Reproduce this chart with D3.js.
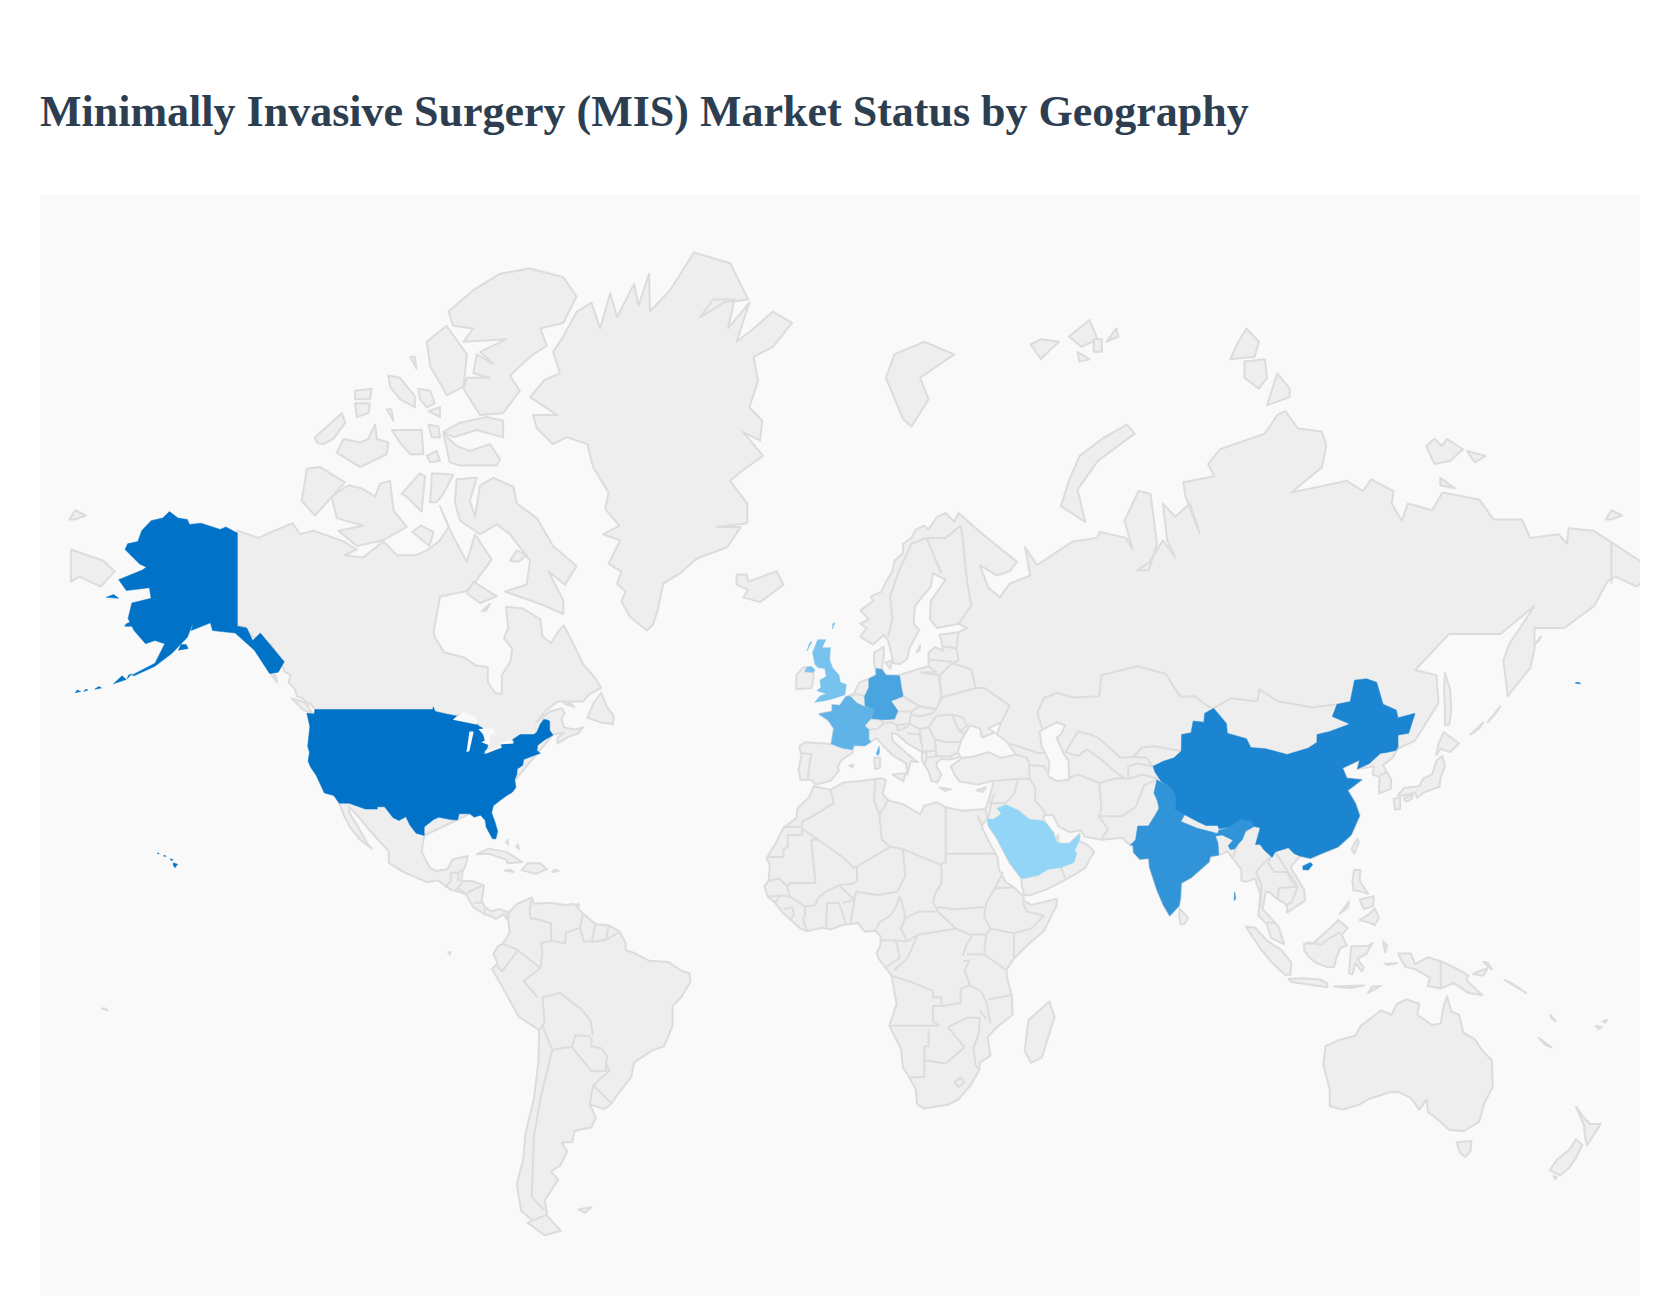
<!DOCTYPE html>
<html><head><meta charset="utf-8">
<script src="https://cdnjs.cloudflare.com/ajax/libs/d3/7.8.5/d3.min.js"></script>
<style>html,body{margin:0;padding:0;background:#fff}svg{display:block}</style></head>
<body><svg id="c" width="1680" height="1304"></svg>
<script>
const chartTitle="Minimally Invasive Surgery (MIS) Market Status by Geography";
// ---- highlighted countries (lon,lat rings) ----
const usaLower48=[[-124.7,48.4],[-123,48.3],[-122.8,49],[-95.2,49],[-95.1,49.4],[-94.6,48.7],[-92,48.3],[-89.6,48],[-88.4,48.3],[-84.9,46.9],[-84.5,46.45],[-83.6,46.1],[-83.5,45.8],[-82.5,45.3],[-82.1,43.6],[-82.5,42.6],[-83.1,42.1],[-82.7,41.7],[-79,42.8],[-79.2,43.4],[-76.8,43.6],[-76.4,44.2],[-74.7,45],[-71.5,45],[-70.8,45.4],[-70,46.7],[-69.2,47.45],[-68.2,47.35],[-67.8,47.1],[-67.8,45.7],[-67,44.9],[-69,44.1],[-70.6,43.2],[-70.8,42.3],[-70,41.8],[-71.5,41.4],[-73.9,40.7],[-74.1,39.7],[-75.4,39],[-75.5,38],[-76,37],[-75.7,35.6],[-76.5,34.7],[-78,33.9],[-79.2,33.2],[-81,32],[-81.4,30.6],[-80.5,28.4],[-80,26.8],[-80.4,25.2],[-81.2,25.2],[-81.8,26.2],[-82.7,27.7],[-82.9,29],[-84,30.1],[-85.5,29.7],[-86.5,30.4],[-89,30.4],[-89.4,29.1],[-91,29.2],[-93.8,29.7],[-95,29.2],[-97.2,27.7],[-97.2,25.9],[-99.1,26.4],[-100.5,28],[-101.5,29.8],[-103.1,29],[-104.5,29.6],[-106.5,31.8],[-108.2,31.8],[-108.2,31.33],[-111,31.33],[-114.8,32.5],[-117.1,32.5],[-118.4,34],[-120.6,34.5],[-121.8,36.6],[-122.5,37.8],[-123.8,39.3],[-124.4,40.4],[-124.1,42],[-124.5,43],[-124,46.3]];
const alaska=[[-141,69.4],[-143.7,69.9],[-145,69.7],[-149.5,70.2],[-152.2,70.1],[-152.7,70.5],[-154.9,70.6],[-156.9,71.1],[-158.5,70.6],[-161.2,70.4],[-163.4,69.6],[-164.3,68.7],[-166.7,68.5],[-167.3,68],[-163.9,66.7],[-162.3,66.4],[-163.4,66.1],[-168.8,65.2],[-167,64.1],[-161.6,64.4],[-161.2,63.3],[-165.7,62.8],[-166.6,61.1],[-165.2,59.7],[-162.5,58.1],[-160.3,58.5],[-158,58.1],[-160.3,55.6],[-165.7,54],[-165.2,53.9],[-160.3,55.2],[-156.3,56.9],[-152.7,58.9],[-151.3,60.7],[-151.8,59.7],[-147.3,60.6],[-146.8,59.7],[-141.5,59.4],[-137,57.3],[-133.4,54.2],[-131.4,54.4],[-130,55.8],[-135.6,59.4],[-137.4,58.5],[-138.8,60],[-141,60.2]];
const usaIslands=[[[-171.7,63.4],[-168.8,63.3],[-170,63.7]],[[-167.4,60.2],[-165.7,60.2],[-166,60.7],[-167,60.5]],[[-154.8,57.3],[-152.5,57.5],[-153,58],[-154.2,58]],[[-170,52.8],[-167,53.4],[-168,53.9]],[[-166.8,53.5],[-165.7,54.2],[-166.5,54]],[[-174.4,52],[-172.8,52.2],[-173.5,52.4]],[[-177,51.7],[-176,51.9],[-176.5,52]],[[-179,51.5],[-177.7,51.7],[-178.5,51.9]],[[172.5,52.9],[173.8,52.8],[173.3,53]],[[-156,20],[-155,19.7],[-155.6,18.9],[-156,19.5]],[[-156.7,20.9],[-156,20.7],[-156.5,20.5]],[[-158.3,21.5],[-157.7,21.4],[-158,21.7]],[[-159.8,22],[-159.3,22],[-159.5,22.2]]];
const chinaMain=[[73.6,39.5],[76,40.4],[78.5,41],[80.2,42.2],[80.3,45],[82.5,45.3],[83,47.2],[85.5,47],[85.7,48.4],[87.8,49.2],[90.8,46.8],[91,45.2],[95.5,44.3],[96.5,42.8],[100,42.6],[105,41.6],[110,42.7],[112,43.7],[112,45],[115,45.5],[119.7,46.7],[115.6,47.9],[116.7,49.8],[119.8,50.2],[120.8,53.3],[123.6,53.5],[126,53],[127.5,49.8],[130.6,48.9],[131,47.7],[135,48.4],[133.5,45.2],[131,44.9],[131,42.9],[130.5,42.3],[128,41.9],[126.9,41.8],[124.3,40],[121.5,39],[122,40.6],[118,39.2],[119,37.3],[122.5,37],[119.2,35],[121,32.5],[122,30],[120,26],[117,23.5],[113.5,22.2],[110.5,21],[108,21.5],[106.7,22],[105.3,23.3],[102.2,22.4],[101.5,21.2],[99.5,22.9],[98.7,24],[97.6,24],[98.7,27.5],[97.3,27.8],[96.5,29],[94,29.2],[91.7,27.7],[89,27.3],[88.8,28],[86,28],[84,28.8],[81,30.2],[78.7,31.3],[79,33],[78.7,34.3],[77.8,35.5],[75.5,36.7],[74,38.5]];
const hainan=[[108.7,19.3],[110.5,20.1],[111,19.6],[110,18.4],[108.7,18.5]];
const indiaMain=[[77.8,35.5],[74.5,37],[73.8,34.5],[74.6,33],[75,31.5],[74,30],[72.5,27.9],[70,27.9],[69.5,25],[68.2,23.8],[68.9,23.9],[69,22.3],[70.5,20.8],[72.6,21],[72.8,19],[74.5,14],[76,10.5],[77.5,8],[79.7,10.3],[80,12],[80.2,15.5],[82.5,16.7],[86.7,20.2],[87,21.4],[89,21.7],[88.8,24.3],[88.2,25.8],[89.8,26],[92.3,24.9],[91.2,23.7],[91.7,22.9],[92.7,23],[93.5,24],[94.5,25],[95.3,26.8],[97.3,27.8],[96.5,29],[94,29.2],[91.7,27.7],[89,27],[88.8,26.4],[88.2,26.4],[88,26.5],[84,27.4],[80.1,28.8],[81,30.2],[78.7,31.3],[79,33],[78.7,34.3]];
const andaman=[[92.7,13.5],[93,12],[92.6,11.5]];
const germany=[[7,53.5],[8.7,54],[8.7,54.9],[10,54.8],[11,54],[14.2,53.9],[14.7,52],[15,51],[12.2,50.3],[13.8,48.8],[13,47.5],[10.5,47.4],[7.5,47.6],[8.2,49],[6.1,49.5],[6,51],[7,52.3]];
const franceMain=[[-1.8,43.4],[-1.2,46],[-2.5,47.3],[-4.7,48.3],[-1.6,48.7],[-1.6,49.7],[0.2,49.6],[1.6,50.9],[2.6,51],[4.2,50],[5.8,49.5],[8.2,49],[7.5,47.6],[6,46.4],[7,45.8],[7,44.2],[7.5,43.8],[6.1,43.1],[3.5,43.2],[3.1,42.4],[0.7,42.7]];
const corsica=[[8.7,41.7],[9.4,43],[9.5,42],[9.2,41.4]];
const greatBritain=[[-5.7,50.1],[-3.5,50.3],[-1,50.7],[1.4,51.2],[1.7,52.7],[0.3,53],[0,54],[-1.5,55],[-2.2,56],[-2,57.6],[-4,57.6],[-3.1,58.6],[-5,58.6],[-6.2,57],[-5.6,55.4],[-4.8,55],[-3.3,54.9],[-3,53.8],[-4.5,53.3],[-4.2,52.3],[-5.2,51.8],[-3,51.4],[-4.5,51]];
const northernIreland=[[-8,54.5],[-6,54.4],[-5.6,54.7],[-6.5,55.2],[-7.4,55.1]];
const ukIslands=[[[-7.5,57.2],[-6.3,58.4],[-6.9,58.2]],[[-1.5,59.9],[-1,60.6],[-1.5,60.5]]];
const saudiArabia=[[34.8,29.4],[36,29.2],[37.5,30],[38,30.5],[37,31.5],[39.2,32.2],[42,31.1],[44.7,29.2],[46.5,29.1],[47.5,29],[48.5,28.5],[50.2,26.5],[50.8,24.8],[51.6,24.2],[52,23],[55.2,22.7],[55.7,22],[55,20],[52,19],[49,18.6],[46.8,17.3],[43.2,16.6],[42.8,16.5],[40,20],[39,21.8],[37.2,25],[35,28]];
const uae=[[51.6,24.2],[54,24.2],[56.4,26.2],[56.3,24.8],[55.2,22.7],[52,23]];
const marketCountries=["United States","China","India","Germany","France","United Kingdom","Saudi Arabia"];
const marketValues=[100,89,80,70,61,51,40];
const marketShapes=[[usaLower48,alaska,...usaIslands],[chinaMain,hainan],[indiaMain,andaman],[germany],[franceMain,corsica],[greatBritain,northernIreland,...ukIslands],[saudiArabia,uae]];
// ---- grey land ----
const northAmerica=[[-141,69.6],[-136,69],[-133,69.5],[-128,70.2],[-126.3,69.3],[-123.2,69.6],[-116.1,68.7],[-113,68],[-115.8,67.5],[-111.5,67.3],[-106.8,68.7],[-103.6,67.5],[-99,67.5],[-96.2,68],[-93.5,68.8],[-91.5,69.9],[-93.5,71.5],[-90.4,69.1],[-87.2,66.9],[-85.3,69.3],[-81.4,67.1],[-85.7,64.7],[-87.6,64],[-93.5,63.5],[-95,59.5],[-94.7,58.9],[-92.5,57],[-88,56.4],[-85,55.3],[-82.3,55.1],[-82.3,53],[-80.5,51.4],[-79,51.4],[-79,54],[-77,55.8],[-76.6,57.5],[-78.5,58.8],[-77.5,60],[-78,62.4],[-74,62.2],[-70,61],[-69.5,59],[-67.5,58.2],[-65.5,59.8],[-64.5,60.3],[-62,57.8],[-60,55.5],[-57,53.5],[-55.7,52.2],[-58.5,51.3],[-60,50.2],[-66,50.2],[-69,48.6],[-71,46.9],[-68,48.6],[-65,49.2],[-64.3,48.5],[-65,47.5],[-64.5,46.2],[-62,45.8],[-60,46.2],[-61,45.2],[-63.5,44.6],[-66,43.5],[-66,44.4],[-64.5,45.3],[-67,45],[-80,33],[-97.2,25.9],[-97.8,22.5],[-96,19],[-94.5,18.2],[-91.8,18.6],[-90.5,20.8],[-87,21.5],[-87.5,19.5],[-88.2,18],[-88.5,16],[-86,15.9],[-83.2,15],[-83.7,11.5],[-83,10],[-81.5,9],[-79.6,9.6],[-77.4,8.7],[-77.9,7.2],[-78.5,8.4],[-80.4,7.3],[-81.7,8],[-83,8.3],[-85.7,10],[-87.5,13],[-91,14],[-94,16.1],[-96.5,15.7],[-101.9,17.9],[-105.5,20],[-105.5,22.5],[-108,25],[-110,27],[-112.8,30],[-114.8,31.8],[-114.7,30.5],[-112.7,27.7],[-110.5,24.2],[-109.5,23.1],[-112.2,25],[-114.5,27.5],[-116,30],[-117.1,32.5],[-122,40],[-122.8,49],[-124,50],[-124.5,49.8],[-125.5,50.6],[-127,51],[-127.5,52],[-129,53],[-128.5,54],[-130,54.5],[-130.3,55],[-133,58],[-137.5,59],[-139.2,60.1],[-141,60.3]];
const canadaIslands=[
[[-90,71.8],[-89.6,73.4],[-84.9,73.5],[-86.5,71.9],[-85.3,70.7],[-84.1,73],[-81,73.5],[-76.3,72.9],[-75.5,71.7],[-70.8,70.6],[-67,68.3],[-61.5,66.5],[-64.2,64.7],[-68.1,66],[-64.6,63.1],[-64.6,61.6],[-70,62.7],[-78.3,64],[-73.2,64.7],[-72.4,67],[-77.1,69.3],[-80.2,70.1],[-84.1,69.3],[-88.8,70.4]],
[[-118.9,72.2],[-115,73],[-111.9,72.8],[-108.7,72.2],[-107.6,73.1],[-105.2,73.3],[-104.4,71.2],[-101.3,69.9],[-106.8,68.8],[-113,68.3],[-117.3,69.6],[-111.5,70],[-117.7,70.6]],
[[-124.7,74.1],[-121.6,74.2],[-115.8,73.2],[-122.8,70.8],[-125.9,71.9]],
[[-117.7,75.1],[-116.1,75.9],[-112.2,75.7],[-110.3,75.9],[-108.7,76.7],[-108.3,75.9],[-105.6,75.7],[-106,75],[-112.2,74.2]],
[[-61.5,82.1],[-64.6,82.7],[-72.4,82.95],[-79.4,82.8],[-85.7,82.3],[-91.5,81.6],[-90.4,81.1],[-85.7,81],[-88,80.5],[-77.9,80.6],[-84.1,80.1],[-81,79.6],[-84.9,80],[-85.7,79.2],[-81.8,79],[-87.2,79],[-88,78.5],[-84.1,77.2],[-78.7,77.3],[-74.8,78.4],[-77.1,79.1],[-72.4,79.9],[-68.5,80.35],[-70,81],[-64.6,81.2]],
[[-92,81.1],[-96.6,80.5],[-95.8,79.5],[-91.9,78.2],[-88,78.6],[-87.2,80]],
[[-92.7,76.2],[-91.2,74.5],[-88.8,74.3],[-80.2,74.3],[-79.4,74.7],[-81.8,75.6],[-86.5,75.2],[-89.6,75.5]],
[[-92.7,76.3],[-88.8,76.8],[-82.6,77.1],[-78.7,76.9],[-78.7,76],[-84.9,76.4],[-90.4,76]],
[[-105.6,79.1],[-102.9,79],[-99.4,78.15],[-99.4,77.6],[-102.9,78],[-105.2,78.6]],
[[-98.6,78.5],[-95.8,78.4],[-94.7,77.8],[-96.6,77.6],[-98.2,78]],
[[-113.4,78.4],[-109.5,78.5],[-109.9,78],[-113.4,78]],
[[-113.4,77.8],[-109.9,77.8],[-110.3,77.3],[-113,77.1]],
[[-122.8,76],[-116.5,77.3],[-115.7,76.8],[-118.5,75.9],[-120.8,75.6],[-122.4,75.7]],
[[-104.8,76.4],[-97.8,76.4],[-97.4,75],[-100.5,75],[-102.9,75.7]],
[[-96.2,76.7],[-93.9,76.6],[-93.5,76],[-95.4,76]],
[[-96.6,74.9],[-94.3,75.2],[-93.5,74.6],[-95.8,74.5]],
[[-102.5,72.4],[-98.2,73.8],[-97,73.6],[-97.8,71.1],[-101.3,72.2]],
[[-95.4,73.8],[-90.4,73.7],[-92.7,72.4],[-94.3,71.8],[-95.8,71.8]],
[[-100,69.5],[-96,68.3],[-95,69.5],[-98,70]],
[[-87.2,63.8],[-85.7,65],[-80.2,63.5],[-84.1,62.8]],
[[-83.7,61.9],[-81.8,62.7],[-82.6,62]],[[-77.1,67],[-75.5,67.9],[-73.2,67.5],[-75.1,66.9]],[[-100.5,79.9],[-99,79.4],[-99.4,79.9]],[[-106,77.5],[-104.4,76.9],[-104.9,77.5]],[[-96.2,77.4],[-93.5,77.1],[-93.5,77.6]],
[[-59,47.7],[-55.5,46.9],[-53,46.7],[-52.8,48],[-54.5,49.5],[-55.7,51.5],[-57.5,50]],[[-128.3,50.7],[-125,50],[-123.4,48.4],[-125.5,48.9]],[[-133,54],[-131.7,53],[-132,54]],[[-64.5,49.9],[-62,49.4],[-63,49.9]]];
const greenland=[[-72.4,78.1],[-69,78.9],[-65.4,79.2],[-67,80.1],[-65,80.6],[-61.4,81.6],[-58,81.9],[-56,81],[-53.6,82.2],[-52,81.4],[-48,82.5],[-47,81.8],[-44.5,82.8],[-44.3,81.6],[-39.6,82.3],[-34,83.4],[-25.5,83.1],[-21.3,82],[-27,81.9],[-32.6,81.4],[-29.5,82],[-24.5,82],[-26,81],[-21,81.9],[-24,80.5],[-20,81],[-15.5,81.6],[-11,81.2],[-15.5,80.3],[-20,79.9],[-19,78.85],[-21,77.6],[-18,76.9],[-18.5,75.8],[-22.5,76.3],[-17.8,74.9],[-22.5,74],[-25.5,73.3],[-21.5,71.7],[-21.5,70.2],[-28.6,69.9],[-23,69.9],[-26.2,68.2],[-33.3,67.2],[-37.3,65.8],[-41.2,64.8],[-42.5,62],[-43.6,60.4],[-45,59.7],[-49,61.3],[-51,63],[-50,64],[-52,64.8],[-51,66],[-54,66.7],[-51.3,68.8],[-55.3,69.3],[-51.5,70],[-54.8,71.3],[-54,72.5],[-57.6,74.2],[-59,75.6],[-63.7,76],[-67,75.6],[-70.8,76.5],[-71.7,77.2],[-66,77.2]];
const iceland=[[-24,65.7],[-21.6,65.7],[-21.3,65],[-14.6,66],[-13,64.7],[-18.5,62.9],[-22.4,63.4],[-21.3,64.2],[-24,64.7]];
const caribbean=[[[-84.9,21.9],[-82,23.1],[-78,22.4],[-74.2,20.2],[-77.7,19.9],[-78,20.7],[-82,22]],[[-74.4,18.4],[-71,17.6],[-68.4,18.6],[-70,19.9],[-73,19.9]],[[-78.3,18.3],[-76.3,18],[-77,18.5]],[[-67.2,18],[-65.7,18.2],[-66.5,18.5]],[[-78,24.5],[-77.5,24],[-77.7,25]],[[-75.6,23.5],[-75,23],[-75.3,24]],[[-61.9,10.2],[-61,10.1],[-61,10.8]]];
const southAmerica=[[-77.4,8.7],[-75.5,10.7],[-72,12.2],[-71.5,10.8],[-68,11],[-64,10.5],[-62,10.7],[-60,8.5],[-57,6],[-54,5.8],[-51.5,4.4],[-50,1.7],[-50,0],[-48,-0.7],[-44.5,-2.5],[-40,-2.8],[-37,-4.8],[-35,-5.5],[-34.8,-7.5],[-37,-11],[-39,-13],[-39,-17.5],[-41,-22],[-44,-23],[-48,-25.5],[-48.7,-28.5],[-52,-32.2],[-53.5,-34],[-55,-34.9],[-58.4,-34],[-57,-36.5],[-58,-38.3],[-62,-39],[-62.5,-41],[-65,-41],[-63.7,-42.6],[-65.3,-45],[-67.5,-46],[-65.8,-47.3],[-69,-50.5],[-68.4,-52.4],[-71,-53.8],[-74.5,-52],[-75.5,-48],[-74,-44],[-73.5,-39.5],[-71.5,-33],[-70.4,-25],[-70.3,-18.4],[-75,-15.5],[-77,-12],[-79.8,-7],[-81.3,-4.5],[-80,-3],[-81,-1],[-80,0.8],[-78.8,1.5],[-77.2,4],[-77.5,7.1]];
const southAmericaIslands=[[[-68.6,-52.6],[-65.2,-54.8],[-69,-55.4],[-73,-53.7]],[[-61,-51.8],[-58,-51.5],[-59.5,-52.3]],[[-91.6,-0.5],[-91,-0.5],[-91.2,-1]]];
const africa=[[-5.9,35.8],[-2,35.1],[1,36.5],[5,36.8],[10,37.3],[11,36.9],[10.2,34.3],[11.5,33.1],[15,32.3],[19,30.3],[20,32],[23,32.7],[25,31.7],[29,31],[32,31.2],[34.3,31.3],[34.9,29.5],[33.5,28],[32.6,29.9],[33.8,27],[35.5,24],[37.2,21],[37.5,18.5],[39,15.8],[41,14.5],[43.2,12.5],[43.3,11.5],[45,10.5],[51,11.9],[51,10.4],[48,4.5],[44,1],[41,-2],[39.2,-4.7],[39.5,-7],[40.5,-10.5],[40.7,-15],[37,-17.8],[34.8,-20],[35.5,-24],[33,-25.5],[32.9,-27],[31,-30],[28,-33],[25.7,-34],[20,-34.8],[18.3,-34],[18,-31],[16.5,-28.6],[15,-26.5],[14.5,-22.5],[11.8,-17.5],[13.5,-12.5],[12.3,-6],[9.3,-2],[8.8,-0.7],[9.7,1],[9.8,3.2],[8.5,4.5],[6,4.3],[4.5,6.3],[1,5.9],[-2,4.8],[-4,5.2],[-7.5,4.4],[-9,5],[-13,8.5],[-15,11],[-16.7,12.4],[-17.5,14.7],[-16.5,16],[-16.2,19.5],[-17,21],[-15,24],[-13,27.5],[-10,29.5],[-9.7,31.5],[-7,33.7]];
const madagascar=[[49.3,-12],[50.5,-15.5],[47.5,-24.5],[45,-25.5],[43.5,-23],[44.4,-16.2]];
const eurasia=[[-9,37],[-9.5,38.8],[-8.8,41.5],[-9.3,43],[-8,43.7],[-1.8,43.4],[-1.2,46],[-2.5,47.3],[-4.7,48.3],[-1.6,48.7],[-1.6,49.7],[0.2,49.6],[1.6,50.9],[3.5,51.4],[4.8,53],[7,53.5],[8.7,54],[8.2,56],[8.2,57],[10.5,57.7],[10.5,56.3],[10,55],[11,54],[14,54],[18.5,54.8],[21,55.2],[21,57],[22.5,57.7],[24.3,57.2],[24,58.5],[23.5,59.2],[28,59.5],[30,60],[28,60.5],[23,60],[21.3,61],[21.5,63],[25,65.2],[22,65.8],[21.5,64.5],[17.8,62.5],[17.5,60.5],[18.8,59.8],[16.5,57.5],[16,56.2],[14.3,55.5],[12.8,55.6],[11.5,58.5],[10.5,59.2],[8,58],[5.5,58.8],[5,59],[6.5,60],[5,60.5],[7,61],[5,62],[8,63],[7.5,63.5],[10,64],[11,65],[12.5,66],[13,67],[15,67.7],[15,68.5],[17,69],[18,69.7],[20,70],[21,69.7],[23,70.7],[25,71],[27,70.3],[28,71],[31.4,70],[33,69.5],[41.7,66.9],[40,66],[37,65.6],[33,66.6],[35,64.4],[37.7,63.4],[40,64.8],[44.8,65.6],[43.6,68.2],[46.4,66.6],[54.8,68.7],[60.5,69],[61.1,69.5],[67.3,69],[68.8,68],[66.9,70.4],[70.2,72.6],[73,72.4],[73.6,71],[74.5,68.5],[72.6,66.1],[69.7,66.1],[72.6,66.8],[75.9,68.8],[78.8,67.3],[76.9,68.8],[75.9,71.7],[78.8,70.7],[82.2,71.7],[84.5,69.4],[81.2,72.2],[80.7,73.2],[87.9,73.6],[86.5,74.4],[89.3,75.3],[99.8,76.2],[102.7,77.2],[104.6,77.4],[107.5,76.5],[113.2,76.3],[114.2,75.5],[113.2,74.2],[106,72.5],[114.2,73],[119,73.3],[122.8,72.6],[124.7,73.4],[130,72.6],[129.5,71.7],[131.9,70.4],[133.3,71.7],[139,71.2],[141.4,72.5],[150,72],[153.4,70.5],[160,70.5],[162,69],[168.7,69.3],[170.6,68.5],[171,69.8],[176.8,69.6],[187.6,67],[190.3,66],[187,64.5],[182,65.5],[180,65],[177,62.5],[170,60],[163,60],[163,57.5],[162,55],[156.7,51],[155.7,56],[157,58],[163,62.5],[155,59.3],[143,59.3],[135,54.7],[140,54],[140.5,50],[135,44],[131,42.6],[129.7,41],[127.5,39.7],[129.4,37],[129.3,35.3],[126.5,34.4],[126.7,37.5],[125,38],[125.4,39.5],[121.5,39],[122,40.6],[118,39.2],[119,37.3],[122.5,37],[119.2,35],[121,32.5],[122,30],[120,26],[117,23.5],[113.5,22.2],[110.5,21],[108,21.5],[105.8,19],[109,14],[109.2,11.5],[105,8.7],[105,10.5],[102.5,12],[100.9,13.4],[100,13.5],[99.3,9.5],[103,5.5],[104.3,1.4],[101.3,2.8],[100.3,6],[98.3,8],[98.7,13],[97.5,16.5],[95.5,15.8],[94.3,16],[94.3,18.5],[92,21.3],[91,22.5],[89,21.7],[87,21.4],[86.7,20.2],[82.5,16.7],[80.2,15.5],[80,12],[79.7,10.3],[77.5,8],[76,10.5],[74.5,14],[72.8,19],[72.6,21],[70.5,20.8],[69,22.3],[70,23],[67.3,24.5],[66.5,25.4],[61.5,25],[57.5,25.7],[56.7,27],[54,26.6],[51.5,27.8],[50,30.2],[48,30],[47.9,29.3],[48.8,28],[50.2,26.5],[50.8,24.8],[51.3,26],[51.6,24.2],[54,24.2],[56.4,26.3],[56.3,24.8],[58.7,23.6],[59.8,22.4],[58.5,20.4],[57.7,18.9],[55,17.3],[52,15.7],[48.5,14],[45,12.8],[43.4,12.7],[42.8,15],[42.8,16.5],[40,20],[39,21.8],[37.2,25],[35,28],[34.8,29.5],[34.3,31.3],[35,33],[36,35.8],[36,36.8],[32.5,36.1],[30.5,36.4],[28.2,36.7],[27,38],[26.2,39.5],[29,41],[31.3,41.2],[35,42],[38,41],[41.5,41.6],[39,44],[37,45],[38,47],[35,46],[36.5,45.3],[33.5,44.5],[33,46],[30.7,46.5],[28.6,44],[27.8,42],[28.5,41.2],[26.2,40.7],[24,40.8],[23,40.3],[22.8,39.5],[24,38],[23,36.5],[21.7,36.8],[21,38.5],[19.4,40.6],[19.5,42],[16,43.5],[13.7,45],[12.3,45.3],[12.5,44],[16,41.7],[18.5,40.2],[16.8,40.4],[16,38],[15.7,40],[12.5,41.5],[10.5,43],[8.8,44.4],[7.5,43.8],[6.1,43.1],[3.5,43.2],[3.2,41.9],[0.7,40.7],[-0.3,39.4],[0,38.7],[-2,36.8],[-5.4,36.1],[-6.5,37]];
const chukotkaWest=[[-180,68],[-172.4,67],[-169.7,66],[-173,64.5],[-178,65.5],[-180,65]];
const eurasiaIslands=[
[[52,71.5],[57.7,70.3],[55.9,72.7],[60.7,74.6],[69.3,76.2],[67.4,76.7],[61.6,75.9],[56.4,74.9],[54,73.4]],
[[95.5,81],[98.4,80.5],[97.4,79.9],[91.7,79.8],[93.6,80.5]],[[95,79.7],[99.8,79.8],[100.3,79],[98.4,78.5],[95,79]],[[102.7,79.2],[105.6,78.5],[105.6,78.1],[100.3,77.7]],
[[137.6,75.5],[139.5,75.9],[141.4,75.5],[142.4,75.9],[146.2,75.3],[143.3,74.6],[139.5,74.4]],[[147.2,75.2],[151.5,74.9],[149,74.5]],[[140.9,73.5],[144.3,72.8],[140.9,73]],
[[179.7,70.5],[181,71.2],[183.5,70.8],[181,70.5]],[[-180.3,70.5],[-179,71.2],[-176.5,70.8],[-179,70.5]],
[[44.9,80.4],[47.3,80.6],[51.6,80.5],[49.6,80.2],[47.3,79.8]],[[53.9,80.7],[58.7,81.3],[60.6,80.6],[56.8,80.3]],[[59.7,80.6],[61.6,80.6],[61.6,80.1],[59.7,80.1]],[[62.7,80.5],[65,81],[65.4,80.7]],[[55.9,80.1],[58.7,79.8],[56.3,79.7]],
[[142,54.3],[143.2,52],[143.5,49],[143,46.6],[142,46.5],[142,49],[141.8,52]],
[[11,79],[15,77],[17,76.6],[21,78],[19,79],[27,80],[20,80.5],[13,80]],
[[130.9,34],[132.5,35.5],[136,35.8],[137,37.3],[139,38],[140,40.5],[141.4,41.3],[142,39.5],[141,37.5],[140.7,35.7],[137,34.6],[135.5,33.5],[135,34.6],[132.5,34]],[[130,33.4],[131.5,33.6],[131.5,31.4],[130.3,31.2]],[[132.3,33.4],[134.5,34.2],[134.3,33.4],[133,32.8]],[[140,41.5],[140.4,43.3],[141.7,45.4],[145.3,43.5],[143.2,42],[141,42.6]],[[120.1,23],[121.5,25.2],[121.8,24.5],[120.8,22]],[[79.8,9.7],[81.8,7.5],[81,6.1],[80,6],[79.7,8]],[[-10,52],[-6.4,52.2],[-6,53.7],[-6,54.4],[-8,54.5],[-7.4,55.1],[-8.5,55],[-10,54]],[[12.5,38],[15.6,38.2],[15.1,36.7]],[[8.2,41],[9.7,41],[9.6,39.2],[8.5,39]],[[23.6,35.5],[26.2,35.2],[24.8,34.9]],[[32.3,35],[34.5,35.6],[33.7,34.7]],[[2.4,39.6],[3.4,39.8],[3.1,39.3]],[[18.2,57],[19,57.9],[18.9,57.3]],[[10.9,55.7],[12.6,56],[12,54.9]],[[148,45],[150,46],[151,47]],[[152,47],[155,49.5],[154,48.5]],[[163,58],[164.5,59],[164,58.5]]];
const seaIslands=[[[95.3,5.5],[97.5,5.2],[100.5,2],[103.7,0],[106,-3],[105.8,-5.8],[104.5,-5.8],[101.5,-3],[99,0],[97,3]],[[105.3,-6.8],[108.5,-6.6],[112.7,-6.9],[114.5,-7.8],[114.4,-8.7],[108.5,-7.8],[106,-7.5]],[[109,1.5],[111,1.5],[113,3.2],[115.5,5.5],[117,7],[119.2,5.2],[117.8,3.5],[119,1],[117.5,0.5],[116.5,-2],[116,-4],[114.5,-4],[111.7,-3],[110,-1.5],[109,0]],[[119.5,-5.5],[120.4,-5.6],[121,-3],[122.5,-5],[123,-4.2],[121.5,-2],[123.5,-1],[125,1.6],[124,1],[120,0.8],[119.8,-2]],[[131,-0.8],[134,-0.8],[135,-3.3],[138,-1.7],[141,-2.6],[145,-4.5],[147.5,-6],[147,-7],[150.7,-10.5],[147.5,-10],[144,-7.7],[141,-9],[138,-8.4],[138.5,-6.5],[135,-4.5],[132.8,-4],[132,-2.8]],[[120.3,16],[120.7,18.5],[122.2,18.4],[122,16],[124,13],[122,13.7],[120.6,13.8]],[[122,7],[124,8.2],[125.6,9.7],[126.5,7.5],[125.5,5.8],[124,6.5]],[[122,11.7],[125.3,12.5],[125.2,10.3],[123,9.5]],[[117.3,8.4],[119.5,11.3],[119.3,10]],[[124,-10],[127,-8.4],[125,-8.5]],[[116,-8.5],[123,-8.3],[120,-8.9]],[[127.9,-3.2],[130.8,-3.1],[128.5,-3.5]],[[127.5,2],[128.5,1],[128,-0.5]],[[148.5,-5.6],[152,-4.2],[151,-6]],[[156,-7],[161,-10],[158,-8]],[[166.7,-15],[168,-16.5],[167,-15.8]],[[164,-20.2],[167,-22.3],[165.5,-21.7]],[[177.3,-17.5],[178.7,-17.8],[178,-18.2]],[[179,-16.5],[180,-16.2],[179.5,-16.8]],[[-172.7,-13.6],[-171.5,-14],[-172,-13.6]],[[152,-3],[153,-4.5],[151,-2.8]]];
const australia=[[114,-22],[113.5,-26],[115,-31],[115,-34.3],[118,-35],[122,-34],[124,-33],[129,-31.6],[131,-31.5],[134,-32.7],[136,-35],[137.7,-33],[138,-35.5],[139.8,-36.5],[143,-38.8],[146.5,-39],[150,-37.3],[151.2,-33.8],[153.2,-30.5],[153,-25],[150.8,-23],[149,-20.5],[146.3,-19],[145.3,-15],[143.5,-14.3],[142.5,-10.8],[141.7,-13],[141,-17],[139,-17.3],[135.5,-15],[136,-12.5],[133,-11.5],[130.8,-12.5],[129.5,-15],[127,-14],[125,-15.5],[122.3,-17.5],[121,-19.7],[117,-20.7]];
const oceaniaIslands=[[[144.7,-41],[148.2,-40.8],[148,-42.5],[146.8,-43.6],[145.5,-42.8]],[[172.7,-34.4],[174.5,-36.5],[176,-37.7],[178.5,-37.7],[177,-39.5],[175.3,-41.6],[174.8,-39.8],[174.6,-38]],[[172.7,-40.5],[174.2,-41.5],[172.7,-43.7],[171,-45.5],[169,-46.6],[166.5,-45.8],[168.3,-44],[171.2,-42.3]],[[167.5,-46.7],[168.2,-46.9],[167.8,-47.2]]];
const greyLand=[northAmerica,...canadaIslands,greenland,iceland,...caribbean,southAmerica,...southAmericaIslands,africa,madagascar,eurasia,chukotkaWest,...eurasiaIslands,...seaIslands,australia,...oceaniaIslands];
// ---- inland water ----
const lakes=[[[47,45.5],[51,47],[53,46.5],[52,45],[51,44.5],[52.8,41.5],[53.8,40.5],[53.9,37],[51,36.8],[49,37.7],[49.3,40.3],[47.5,43]],[[-90.5,47.4],[-87,46.9],[-84.7,46.6],[-85,47.8],[-88,48.7],[-89.5,48]],[[-87.3,42],[-86.6,42.2],[-85.6,45.5],[-86.6,45.5]],[[-84.5,45.9],[-83.4,45],[-83,44],[-83.8,43.7],[-82,43.2],[-81.6,45],[-80.5,45],[-81,46]],[[-83.3,41.7],[-79,42.8],[-79.2,43],[-82.7,42.2]],[[-79.7,43.3],[-76.3,43.5],[-76.3,44],[-79,43.8]]];
// ---- country borders ----
const americasBorders=[[[-92.2,14.5],[-91,16],[-91,17.8],[-89.2,17.8],[-88.3,18.5]],[[-89.2,17.8],[-89.2,15.9]],[[-88.2,15.7],[-89.3,14.4],[-90,13.8]],[[-89.3,14.4],[-87.7,13.3]],[[-83.2,15],[-86,13.9],[-87.5,13]],[[-85.7,11],[-83.7,11]],[[-83,9.6],[-83,8.3]],[[-72,11.8],[-72.5,9.5],[-72.3,7.5],[-70,7],[-67.5,6.2],[-67.4,2.2]],[[-67.4,2.2],[-69.8,1.7],[-69.5,-0.5],[-70,-4.2]],[[-60,8.5],[-60.7,5.2]],[[-67.4,2.2],[-64.2,1.5],[-64,4],[-60.7,5.2]],[[-60.7,5.2],[-59.8,2],[-57,2],[-54.6,2.4],[-51.7,4.1]],[[-57.1,6],[-58,1.9]],[[-54,5.8],[-54.6,2.4]],[[-78.8,1.5],[-75.2,0]],[[-75.2,-0.1],[-70,-4.2]],[[-80.3,-3.4],[-79,-5],[-75.3,-0.2]],[[-70,-4.2],[-73.9,-7.3],[-70.6,-11]],[[-69.5,-11],[-69,-16.5],[-69.5,-17.5]],[[-70.3,-18.4],[-69.5,-17.5]],[[-69.5,-11],[-65.4,-10],[-60.5,-13.7],[-58.2,-16.3],[-57.7,-19.5]],[[-69.5,-17.5],[-68.4,-20],[-67.2,-22.8]],[[-67.2,-22.8],[-64.5,-22.3],[-62.6,-22.2]],[[-62.6,-22.2],[-61.8,-19.6],[-58.2,-19.8]],[[-58,-20],[-58,-22],[-55.6,-22.5],[-54.3,-24.1],[-54.6,-25.6]],[[-62.6,-22.2],[-58,-27.3],[-54.6,-27.2],[-54.6,-25.6]],[[-54.6,-25.6],[-53.8,-27.2],[-57.6,-30.2]],[[-57.6,-30.2],[-53.4,-33.7]],[[-57.6,-30.2],[-58.4,-34]],[[-67.2,-22.8],[-70,-33],[-71.5,-40],[-72,-50],[-69,-52]]];
const africaBorders=[[[-2,35.1],[-1.2,32.5],[-5,30.5],[-8.7,28.7],[-8.7,27.7]],[[-13,27.7],[-8.7,27.7]],[[-8.7,27.7],[-8.7,26],[-12,26],[-12,23.5],[-13,23],[-13,21.3],[-17,21.3]],[[-8.7,27.3],[-4.8,25]],[[-4.8,25],[-6.5,25],[-5.5,15.5],[-11.5,15.5],[-12.2,14.8]],[[-16.5,16],[-14,16.5],[-12.2,14.8]],[[-4.8,25],[1.2,21],[3.3,19],[4.2,19.2]],[[-12.2,14.8],[-11.5,12.4]],[[-13.7,12.7],[-11.5,12.4],[-8,10.2],[-7.9,8],[-8.5,7.5]],[[-16.7,12.4],[-13.7,12.7],[-15,11]],[[-13,9.5],[-11,10],[-10.5,8.3],[-11.5,7]],[[-8.5,7.5],[-7.5,4.4]],[[-3,5],[-2.8,11]],[[-5.5,10.4],[-5,12],[-3,13.6],[0,15],[3.3,15.4]],[[-8,10.2],[-5.5,10.4]],[[-2.8,11],[0,11]],[[0,11],[1.6,6.2]],[[0.9,11],[3.6,11.7],[2.7,6.4]],[[0,15],[3.6,11.7]],[[3.3,15.4],[4.2,16],[4.2,19.2]],[[4.2,19.2],[12,23.5]],[[9.5,30.2],[10,25],[12,23.5]],[[8.5,37],[8.2,33],[9.5,30.2]],[[11.5,33.1],[9.5,30.2]],[[12,23.5],[15,23]],[[15,23],[24,19.5]],[[25,31.7],[25,20]],[[24,19.5],[24,20],[25,20]],[[25,22],[37,22]],[[3.6,11.7],[4,13.5],[9,12.8],[13.6,13.5]],[[15,23],[15.5,17],[13.6,13.5]],[[8.5,4.5],[9.5,6.5],[12,8],[13.3,10],[14.2,12.4]],[[14.2,12.4],[15,10],[15.5,7.5]],[[15.5,7.5],[19,9],[23,9]],[[24,19.5],[24,15.5],[22.5,13],[22,11]],[[22,11],[23.5,8.7],[27.4,5]],[[15.5,7.5],[14.5,5],[16,2]],[[9.8,2.3],[13.3,2.2],[16,2]],[[16,2],[18.5,3.6]],[[18.5,3.6],[22.5,4.2],[27.4,5]],[[18.5,3.6],[16,-2],[13,-4.7]],[[13.3,2.2],[14.3,-1.8],[11.2,-3.9]],[[12.3,-6],[17,-7.5],[22,-9.6],[22,-11],[24,-11]],[[24,-11],[24,-13],[28.5,-12.3],[28.5,-9],[30.7,-8.2]],[[30.7,-8.2],[29.3,-4.5]],[[29,-2.7],[30.5,-2.4],[29.7,-4.4]],[[29,-1.4],[30,1.5],[31,3],[30.8,3.6]],[[27.4,5],[30.8,3.6]],[[30,-1],[34,-1]],[[34,-1],[34.5,3.7]],[[34,-1],[39.2,-4.7]],[[41,-1.7],[41,3.9]],[[35.5,5],[41,3.9]],[[41,3.9],[45,5],[48,8],[44,9],[43,11]],[[35.5,5],[34,8],[34.5,11],[36.5,14.3]],[[36.5,14.3],[38.5,18]],[[36.5,14.3],[41,14.5]],[[23,10],[27,9.5],[34,10]],[[30.8,3.6],[34.5,3.7]],[[34.5,3.7],[35.5,5]],[[40.5,-10.5],[35,-11.5]],[[33.3,-9.5],[34.5,-12],[35.5,-17]],[[33,-14],[34.5,-16]],[[30.7,-8.2],[33,-9.5]],[[30.3,-15.6],[33,-15.8],[32.8,-19],[31.5,-22.4]],[[22,-13],[22,-16.5],[23.5,-17.5]],[[24,-13],[22,-13]],[[11.8,-17.5],[21,-17.5],[23.5,-17.5]],[[25.5,-17.8],[30.3,-15.6]],[[21,-18.3],[21,-22],[20,-22],[20,-28.5]],[[20,-28.5],[16.5,-28.6]],[[25.5,-17.8],[29.4,-22.2]],[[20,-25],[25,-25.7],[29.4,-22.2]],[[31.5,-22.4],[32,-26],[32.9,-27]],[[27,-29.5],[28.5,-28.6],[29.4,-29.5],[28,-30.6],[27,-29.5]]];
const asiaBorders=[[[36,36.8],[42,37.2]],[[42,37.2],[44.7,37.2],[44.5,39.7]],[[41.5,41.6],[44,41],[44.7,39.7]],[[39.9,43.5],[46.5,41.9],[48.5,41.8]],[[44.8,39.7],[48,39.5],[48.8,38.4]],[[44.7,37.2],[46,35.5],[46,33],[48,31],[48.5,30]],[[42,37.2],[41,34.3],[39,32.5]],[[39,32.5],[36,32.5],[35,32.7]],[[34.9,29.5],[35.5,31.5],[35.8,33]],[[35.8,33],[36.5,34.5]],[[53.9,37.3],[56,38],[61,36.4]],[[61,36.4],[61.5,31.4],[60.9,29.9]],[[60.9,29.9],[63,27.2],[61.6,25.2]],[[60.9,29.9],[66.4,29.9],[69.5,31.7],[71.5,36],[74.5,37]],[[61,36.4],[65,37.3],[67.8,37.2],[71,38],[74.8,37.2]],[[47.6,46],[46.5,48.5],[48,50.7],[51,51.5],[55,50.8],[61,51],[61.5,54],[70,55.2],[76.5,54.2],[80,50.9],[83.5,51],[85.7,49.8],[87.3,49.2]],[[53,42],[56,45.5],[59,45],[61,44.3],[66,41],[69,41.2],[71,42.8],[74,43],[80.2,42.2]],[[56,41.3],[58,42.5],[61,41],[65,38.3],[67,37.2]],[[53,42],[56,41.3]],[[69,41.2],[72,41],[73.6,39.5]],[[67.8,37.2],[67.8,39.5],[70,40],[73.6,39.5]],[[87.8,49.2],[92,50.7],[98,50.2],[98.5,52],[103,50.2],[107,49.8],[111,49.3],[116.7,49.8]],[[52,19],[53,16.6]],[[43.2,16.6],[46.8,17.3]],[[92.2,21],[93.5,24]],[[98.7,10],[99,15],[97.7,18],[100,20.4],[101.2,21.4]],[[101.2,21.4],[100.6,20],[102,18],[105,18],[106,16],[107.5,14.7]],[[102.2,22.4],[104,19.8],[107.5,14.7]],[[102.9,11.7],[103,14.3],[107.5,14.7],[106,11],[104.5,10.4]],[[100.3,6.5],[102,6.2]],[[126.7,37.8],[128.5,38.5]],[[130.6,42.4],[129.7,42.5]],[[109.7,1.8],[113,1.3],[115,2.8],[117.6,4.2]],[[141,-2.6],[141,-9]],[[181,64.8],[181,68.5]]];
const europeBorders=[[[-8.8,41.8],[-6.5,41.7],[-7,39.5],[-7.3,37.2]],[[6,46.4],[7,45.8],[9,45.9],[10.5,46.8],[9.6,47.4],[7.5,47.6]],[[10.5,46.8],[12.2,47],[13.7,46.5],[13.7,45.6]],[[9.6,47.4],[13,47.7],[13.8,48.7],[17,48.7],[16.5,46.8],[13.7,46.5]],[[12.2,50.3],[15,51],[18.8,49.5],[17,48.7]],[[14.7,52],[15,51],[19,49.4],[22.8,49],[24,50.8],[23.7,52.6],[23.5,54],[19,54.4]],[[18.8,49.5],[22.6,49.1],[22,48.4],[18.8,47.9],[17,48.2]],[[16.5,46.8],[18.8,45.9],[21,46.2],[22.8,48]],[[22.8,48],[26.5,48.2],[28.2,45.5],[29.6,45.2]],[[21,46.2],[22.5,44.2],[25,43.7],[28.6,43.8]],[[22.5,44.2],[22.8,41.3],[26.2,41.3],[28,42]],[[22.8,49],[24,50.8],[32,52.2],[34,52.2],[40,49.6],[38.2,47.2]],[[26.5,48.2],[29,47.8],[30,46.4],[28.2,45.5]],[[24,51.2],[23.5,53.9],[26.5,55.6],[31,54.8],[32,52.2]],[[21,56.1],[26.5,55.8]],[[24.3,57.8],[27.5,57.5]],[[28,59.5],[27.5,57.5],[28,56],[26.5,55.6]],[[19.8,54.4],[22.8,54.4],[21,55.2]],[[28,60.5],[31,62.5],[30,65],[29,69],[28.5,70]],[[24,65.8],[20.5,69]],[[11.5,59],[12.5,61],[12,63.5],[14,66],[17,68.5],[20.5,69]],[[20.5,69],[25,69],[28.5,70]],[[2.6,51],[4.2,51.3],[6,51]],[[7,53.3],[7,52.3]],[[13.7,45.5],[16.5,46.5]],[[18.8,45.9],[19.5,43],[19.5,42],[22.5,42.3]],[[16,45.2],[19,45],[19.2,43.5]],[[22.8,41.3],[20.5,41],[20,39.7]],[[20.5,41],[20.5,42.5]],[[26.2,41.3],[26.2,40.7]]];
const borderLines=[...americasBorders,...africaBorders,...asiaBorders,...europeBorders];
// ---- scales ----
const toRad=d3.scaleLinear([0,180],[0,Math.PI]);
const mapX=d3.scaleLinear([0,1],[839,839+244.5]);
const mapY=d3.scaleLinear([0,1],[950,950-244.5]);
const point=([lon,lat])=>{const [mx,my]=d3.geoMercatorRaw(toRad(lon),toRad(lat));return [mapX(mx),mapY(my)];};
const ringPath=r=>d3.line()(r.map(point))+"Z";
const linePath=l=>d3.line()(l.map(point));
const shade=d3.scaleLinear([40,100],["#92d5f7","#0073c8"]);
const svg=d3.select("#c");
svg.append("text").attr("x",40).attr("y",126).attr("font-family","'Liberation Serif',serif").attr("font-weight","bold").attr("font-size",44).attr("fill","#2c3e50").text(chartTitle);
svg.append("rect").attr("x",40).attr("y",195).attr("width",1600).attr("height",1101).attr("fill","#f9f9f9");
svg.append("clipPath").attr("id","panel").append("rect").attr("x",40).attr("y",195).attr("width",1600).attr("height",1101);
const g=svg.append("g").attr("clip-path","url(#panel)").attr("stroke-linejoin","round");
g.append("g").selectAll("path").data(greyLand).join("path").attr("d",ringPath).attr("fill","#eeeeee").attr("stroke","#dcdcdc").attr("stroke-width",2);
g.append("g").selectAll("path").data(borderLines).join("path").attr("d",linePath).attr("fill","none").attr("stroke","#dcdcdc").attr("stroke-width",2);
[2,1,0,3,4,5,6].forEach(i=>{
  const c=shade(marketValues[i]);
  g.append("g").attr("data-country",marketCountries[i]).selectAll("path").data(marketShapes[i]).join("path").attr("d",ringPath).attr("fill",c).attr("stroke",c).attr("stroke-width",0.5);
});
g.append("g").selectAll("path").data(lakes).join("path").attr("d",ringPath).attr("fill","#f9f9f9").attr("stroke","#dcdcdc").attr("stroke-width",(d,i)=>i?0:2);
</script></body></html>
